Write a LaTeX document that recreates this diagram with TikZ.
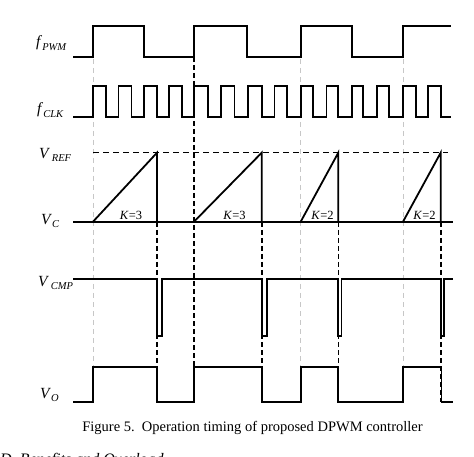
\documentclass[tikz,border=0pt]{standalone}
\usepackage{fontspec}
\setmainfont{Liberation Serif}
\newcommand\sglab[2]{\textit{#1}\raisebox{-0.5ex}{\fontsize{10.5}{10.5}\selectfont\textit{#2}}}
\begin{document}
\begin{tikzpicture}[x=1pt,y=-1pt,
  sig/.style={line width=1.8pt, line join=miter},
  bdash/.style={line width=1.6pt, dash pattern=on 5pt off 3pt},
  gdash/.style={line width=0.9pt, draw=black!22, dash pattern=on 5pt off 4pt},
  lab/.style={anchor=west, inner sep=0pt, font=\fontsize{15.5}{15.5}\selectfont},
  klab/.style={inner sep=0pt, font=\fontsize{12.5}{12.5}\selectfont}]
\useasboundingbox[fill=white] (0,0) rectangle (474,457);

% light grey guide lines
\foreach \x in {93,300.7,403}
  \draw[gdash] (\x,59) -- (\x,367);

% labels
\node[lab] (lpwm) at (36,43) {\sglab{f}{PWM}};
\node[lab] (lclk) at (37,110) {\sglab{f}{CLK}};
\node[lab] (lref) at (39,155) {\sglab{V}{\,REF}};
\node[lab] (lvc)  at (41,221) {\sglab{V}{C}};
\node[lab] (lcmp) at (38,283) {\sglab{V}{\,CMP}};
\node[lab] (lvo)  at (40,395) {\sglab{V}{O}};

% f_PWM
\draw[sig] (73,57) -- (93,57) -- (93,26) -- (144,26) -- (144,57) -- (194,57) -- (194,26)
  -- (247,26) -- (247,57) -- (300.7,57) -- (300.7,26) -- (352,26) -- (352,57)
  -- (403,57) -- (403,26) -- (451,26);

% f_CLK
\draw[sig] (73,117) foreach \r/\f in {93/106,118.5/131.5,144/157,169/182,194/208,221/234.5,248/261.7,274.5/287.3,300.7/313.3,326.5/338.3,351.7/363.3,377/389.3,403/416,428.3/440.7}
  { -- (\r,117) -- (\r,86) -- (\f,86) -- (\f,117) } -- (451,117);

% V_REF level
\draw[bdash, dash pattern=on 6pt off 4pt] (93,152.7) -- (448,152.7);

% V_C ramps
\draw[sig] (73,221.7) -- (452.7,221.7);
\draw[sig] (93,221.7) -- (157,152.7) -- (157,221.7);
\draw[sig] (194,221.7) -- (261.7,152.7) -- (261.7,221.7);
\draw[sig] (300.7,221.7) -- (338.3,152.7) -- (338.3,221.7);
\draw[sig] (403,221.7) -- (440.7,152.7) -- (440.7,221.7);
\node[klab] (k1) at (131,215) {\textit{K}=3};
\node[klab] (k2) at (234.5,215) {\textit{K}=3};
\node[klab] (k3) at (322.5,215) {\textit{K}=2};
\node[klab] (k4) at (424.5,215) {\textit{K}=2};

% V_CMP
\draw[sig] (73,279.3) -- (157,279.3) -- (157,335.7) -- (162,335.7) -- (162,279.3)
  -- (261.7,279.3) -- (261.7,335.7) -- (267,335.7) -- (267,279.3)
  -- (338.3,279.3) -- (338.3,335.7) -- (341.5,335.7) -- (341.5,279.3)
  -- (440.7,279.3) -- (440.7,335.7) -- (444,335.7) -- (444,279.3) -- (452.7,279.3);

% V_O
\draw[sig] (73,402.3) -- (93,402.3) -- (93,367.3) -- (157,367.3) -- (157,402.3)
  -- (194,402.3) -- (194,367.3) -- (261.7,367.3) -- (261.7,402.3)
  -- (300.7,402.3) -- (300.7,367.3) -- (338.3,367.3) -- (338.3,402.3)
  -- (403,402.3) -- (403,367.3) -- (441.5,367.3) -- (441.5,402.3) -- (453.3,402.3);

% black dashed timing lines
\draw[bdash] (194,57) -- (194,367.3);
\foreach \x in {157,261.7,338.3,440.7}
  \draw[bdash] (\x,222) -- (\x,402);

% caption
\node[inner sep=0pt, font=\fontsize{14.5}{14.5}\selectfont] (cap) at (252.5,428) {Figure 5.\ \ Operation timing of proposed DPWM controller};

% clipped next heading (only its top shows, as in the source page)
\begin{scope}
\clip (0,0) rectangle (474,457);
\node[anchor=base west, inner sep=0pt, font=\fontsize{16}{16}\selectfont\itshape] (nxt) at (0,464) {D. Benefits and Overload};
\end{scope}
\end{tikzpicture}
\end{document}
